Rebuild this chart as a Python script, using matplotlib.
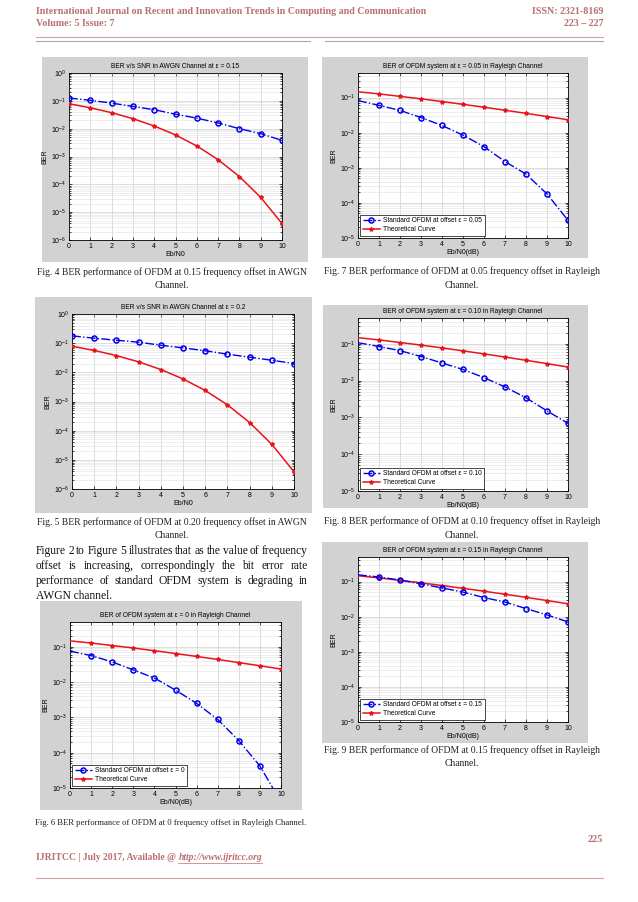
import matplotlib
matplotlib.use('Agg')
import matplotlib.pyplot as plt
from matplotlib.patches import Rectangle
from matplotlib.lines import Line2D
from matplotlib.ticker import LogLocator, NullFormatter, FixedLocator, LogFormatterSciNotation

W, H = 638, 902

# ---------------- data ----------------
ebn0 = [0, 1, 2, 3, 4, 5, 6, 7, 8, 9, 10]
theory_awgn = [0.0786, 0.0563, 0.0375, 0.0229, 0.0125, 0.00595, 0.00239, 7.7e-4, 1.9e-4, 3.4e-5, 3.9e-6]
theory_rayleigh = [0.146, 0.127, 0.108, 0.092, 0.077, 0.064, 0.053, 0.0435, 0.0355, 0.0288, 0.0233]
awgn_eps015 = [0.126, 0.104, 0.083, 0.063, 0.048, 0.033, 0.024, 0.016, 0.010, 0.0066, 0.0038]
awgn_eps020 = [0.178, 0.148, 0.126, 0.108, 0.085, 0.069, 0.055, 0.042, 0.033, 0.026, 0.020]
ray_eps000 = [0.075, 0.056, 0.037, 0.022, 0.013, 0.0059, 0.0025, 8.7e-4, 2.2e-4, 4.2e-5, 4.0e-6]
ray_eps005 = [0.082, 0.060, 0.043, 0.027, 0.016, 0.0085, 0.0040, 0.0015, 6.6e-4, 1.8e-4, 3.2e-5]
ray_eps010 = [0.107, 0.084, 0.065, 0.045, 0.030, 0.020, 0.012, 0.0067, 0.0034, 0.0015, 6.9e-4]
ray_eps015 = [0.155, 0.135, 0.110, 0.086, 0.066, 0.050, 0.035, 0.026, 0.017, 0.0112, 0.0071]

x_ticks = [0, 1, 2, 3, 4, 5, 6, 7, 8, 9, 10]
y_ticks_awgn = [1e-6, 1e-5, 1e-4, 1e-3, 1e-2, 1e-1, 1e0]
y_ticks_ray = [1e-5, 1e-4, 1e-3, 1e-2, 1e-1]

titles = {
    'f4': 'BER v/s SNR in AWGN Channel at \u03b5 = 0.15',
    'f5': 'BER v/s SNR in AWGN Channel at \u03b5 = 0.2',
    'f6': 'BER of OFDM system at \u03b5 = 0 in Rayleigh Channel',
    'f7': 'BER of OFDM system at \u03b5 = 0.05 in Rayleigh Channel',
    'f8': 'BER of OFDM system at \u03b5 = 0.10 in Rayleigh Channel',
    'f9': 'BER of OFDM system at \u03b5 = 0.15 in Rayleigh Channel',
}
legend_labels = {
    'f6': 'Standard OFDM at offset \u03b5 = 0',
    'f7': 'Standard OFDM at offset \u03b5 = 0.05',
    'f8': 'Standard OFDM at offset \u03b5 = 0.10',
    'f9': 'Standard OFDM at offset \u03b5 = 0.15',
}
captions = {
    'f4': ['Fig. 4 BER performance of OFDM at 0.15 frequency offset in AWGN', 'Channel.'],
    'f5': ['Fig. 5 BER performance of OFDM at 0.20 frequency offset in AWGN', 'Channel.'],
    'f6': ['Fig. 6 BER performance of OFDM at 0 frequency offset in Rayleigh Channel.'],
    'f7': ['Fig. 7 BER performance of OFDM at 0.05 frequency offset in Rayleigh', 'Channel.'],
    'f8': ['Fig. 8 BER performance of OFDM at 0.10 frequency offset in Rayleigh', 'Channel.'],
    'f9': ['Fig. 9 BER performance of OFDM at 0.15 frequency offset in Rayleigh', 'Channel.'],
}
paragraph = ['Figure 2 to Figure 5 illustrates that as the value of frequency',
             'offset is increasing, correspondingly the bit error rate',
             'performance of standard OFDM system is degrading in',
             'AWGN channel.']

# ---------------- layout (pixels) ----------------
panels = [
    dict(key='f4', box=(42, 57, 308, 262), ax=(69, 73, 282, 240), ylim=(1e-6, 1), yt=y_ticks_awgn,
         blue=awgn_eps015, red=theory_awgn, xlabel='Eb/N0', legend=False, cap_y=272, cap_x=172, cap_fs=6.9),
    dict(key='f5', box=(35, 297, 312, 513), ax=(72, 314, 294, 489), ylim=(1e-6, 1), yt=y_ticks_awgn,
         blue=awgn_eps020, red=theory_awgn, xlabel='Eb/N0', legend=False, cap_y=522, cap_x=172, cap_fs=6.9),
    dict(key='f6', box=(40, 601, 302, 810), ax=(70, 622, 281, 788), ylim=(1e-5, 0.5), yt=y_ticks_ray,
         blue=ray_eps000, red=theory_rayleigh, xlabel='Eb/N0(dB)', legend=True, cap_y=823, cap_x=171, cap_fs=6.2),
    dict(key='f7', box=(322, 57, 588, 258), ax=(358, 73, 568, 238), ylim=(1e-5, 0.5), yt=y_ticks_ray,
         blue=ray_eps005, red=theory_rayleigh, xlabel='Eb/N0(dB)', legend=True, cap_y=271, cap_x=462, cap_fs=6.9),
    dict(key='f8', box=(323, 305, 588, 508), ax=(358, 318, 568, 491), ylim=(1e-5, 0.5), yt=y_ticks_ray,
         blue=ray_eps010, red=theory_rayleigh, xlabel='Eb/N0(dB)', legend=True, cap_y=521, cap_x=462, cap_fs=6.9),
    dict(key='f9', box=(322, 542, 588, 743), ax=(358, 557, 568, 722), ylim=(1e-5, 0.5), yt=y_ticks_ray,
         blue=ray_eps015, red=theory_rayleigh, xlabel='Eb/N0(dB)', legend=True, cap_y=750, cap_x=462, cap_fs=6.9),
]

SANS = ['Liberation Sans', 'DejaVu Sans']
SERIF = ['Liberation Serif', 'DejaVu Serif']
HEAD_COL = '#b86f70'

fig = plt.figure(figsize=(W / 100, H / 100), dpi=100)
fig.patch.set_facecolor('white')


def fx(x):
    return x / W


def fy(y):
    return 1 - y / H


def ftext(x, y, s, **kw):
    return fig.text(fx(x), fy(y), s, **kw)


for p in panels:
    bx0, by0, bx1, by1 = p['box']
    fig.add_artist(Rectangle((fx(bx0), fy(by1)), (bx1 - bx0) / W, (by1 - by0) / H,
                             transform=fig.transFigure, facecolor='#d2d2d2', edgecolor='none', zorder=0))
    ax0, ay0, ax1, ay1 = p['ax']
    ax = fig.add_axes([fx(ax0), fy(ay1), (ax1 - ax0) / W, (ay1 - ay0) / H])
    ax.set_zorder(2)
    ax.set_facecolor('white')
    ax.set_yscale('log')
    ax.set_xlim(0, 10)
    ax.set_ylim(*p['ylim'])
    ax.xaxis.set_major_locator(FixedLocator(x_ticks))
    ax.yaxis.set_major_locator(FixedLocator(p['yt']))
    ax.yaxis.set_major_formatter(LogFormatterSciNotation())
    ax.yaxis.set_minor_locator(LogLocator(base=10, subs=range(2, 10), numticks=50))
    ax.yaxis.set_minor_formatter(NullFormatter())
    ax.grid(True, which='major', color='#cfcfcf', lw=0.5, ls='-')
    ax.grid(True, which='minor', axis='y', color='#e2e2e2', lw=0.4, ls='-')
    ax.set_axisbelow(True)
    ax.tick_params(which='both', direction='in', top=True, right=True, width=0.5)
    ax.tick_params(which='major', length=2.5, labelsize=5, pad=2)
    ax.tick_params(which='minor', length=1.2)
    for lab in ax.get_xticklabels() + ax.get_yticklabels():
        lab.set_family(SANS)
    for s in ax.spines.values():
        s.set_linewidth(0.6)
    is_ray = p['legend']
    mev = slice(1, None) if is_ray else None
    ax.plot(ebn0, p['blue'], color='#0000ee', ls='-.', lw=1.0, marker='o', markersize=3.6,
            markerfacecolor='none', markeredgewidth=1.1, markevery=mev,
            label=legend_labels.get(p['key'], ''), zorder=4)
    ax.plot(ebn0, p['red'], color='#e8141c', ls='-', lw=1.1, marker='*', markersize=3.0,
            markevery=mev, label='Theoretical Curve', zorder=3)
    ax.set_title(titles[p['key']], fontsize=4.8, family=SANS, pad=3.5)
    ax.set_xlabel(p['xlabel'], fontsize=5.0, family=SANS, labelpad=1)
    ax.set_ylabel('BER', fontsize=5.0, family=SANS, labelpad=1.5)
    if is_ray:
        leg = ax.legend(loc='lower left', prop={'family': SANS, 'size': 4.8}, frameon=True,
                        fancybox=False, edgecolor='black', framealpha=1, borderpad=0.35,
                        handlelength=2.6, labelspacing=0.3, borderaxespad=0.35, handletextpad=0.5)
        leg.get_frame().set_linewidth(0.5)
    # captions
    cy = p['cap_y']
    for i, line in enumerate(captions[p['key']]):
        ftext(p['cap_x'], cy + i * 14, line, ha='center', va='center', fontsize=p['cap_fs'],
              family=SERIF, color='#222222')

# ---------------- header / footer ----------------
ftext(36, 11, 'International Journal on Recent and Innovation Trends in Computing and Communication',
      ha='left', va='center', fontsize=7.2, family=SERIF, weight='bold', color=HEAD_COL)
ftext(36, 24, 'Volume: 5 Issue: 7', ha='left', va='center', fontsize=7.2, family=SERIF,
      weight='bold', color=HEAD_COL)
ftext(603, 11, 'ISSN: 2321-8169', ha='right', va='center', fontsize=7.2, family=SERIF,
      weight='bold', color=HEAD_COL)
ftext(603, 24, '223 \u2013 227', ha='right', va='center', fontsize=7.2, family=SERIF,
      weight='bold', color=HEAD_COL)
fig.add_artist(Line2D([fx(36), fx(603)], [fy(37), fy(37)], transform=fig.transFigure,
                      color='#d9a0a0', lw=0.8))
fig.add_artist(Line2D([fx(36), fx(310)], [fy(40.5), fy(40.5)], transform=fig.transFigure,
                      color='#aaaaaa', lw=0.8))
fig.add_artist(Line2D([fx(325), fx(603)], [fy(40.5), fy(40.5)], transform=fig.transFigure,
                      color='#aaaaaa', lw=0.8))

ftext(603, 840, '225', ha='right', va='center', fontsize=7.5, family=SERIF, weight='bold',
      color=HEAD_COL)
t1 = ftext(36, 858, 'IJRITCC | July 2017, Available @ ', ha='left', va='center', fontsize=6.9,
           family=SERIF, weight='bold', color=HEAD_COL)
fig.canvas.draw()
r = fig.canvas.get_renderer()
bb = t1.get_window_extent(r)
t2 = fig.text(bb.x1 / fig.bbox.width, fy(858), 'http://www.ijritcc.org', ha='left', va='center',
              fontsize=6.9, family=SERIF, weight='bold', style='italic', color=HEAD_COL)
bb2 = t2.get_window_extent(r)
fig.add_artist(Line2D([bb2.x0 / fig.bbox.width, bb2.x1 / fig.bbox.width], [fy(863), fy(863)],
                      transform=fig.transFigure, color=HEAD_COL, lw=0.5))
fig.add_artist(Line2D([fx(36), fx(603)], [fy(878), fy(878)], transform=fig.transFigure,
                      color='#d9a0a0', lw=0.8))

# ---------------- paragraph (justified) ----------------
PX0, PX1 = 36, 308
PFS = 8.3
for i, line in enumerate(paragraph):
    y = 551 + i * 15
    words = line.split(' ')
    if i == len(paragraph) - 1:
        ftext(PX0, y, line, ha='left', va='center', fontsize=PFS, family=SERIF, color='#111111')
        continue
    arts = [ftext(PX0, y, w, ha='left', va='center', fontsize=PFS, family=SERIF, color='#111111')
            for w in words]
    widths = [a.get_window_extent(r).width for a in arts]
    gap = ((PX1 - PX0) - sum(widths)) / max(len(words) - 1, 1)
    x = PX0
    for a, w in zip(arts, widths):
        a.set_x(fx(x))
        x += w + gap

fig.savefig('out.png', dpi=100, facecolor='white')
